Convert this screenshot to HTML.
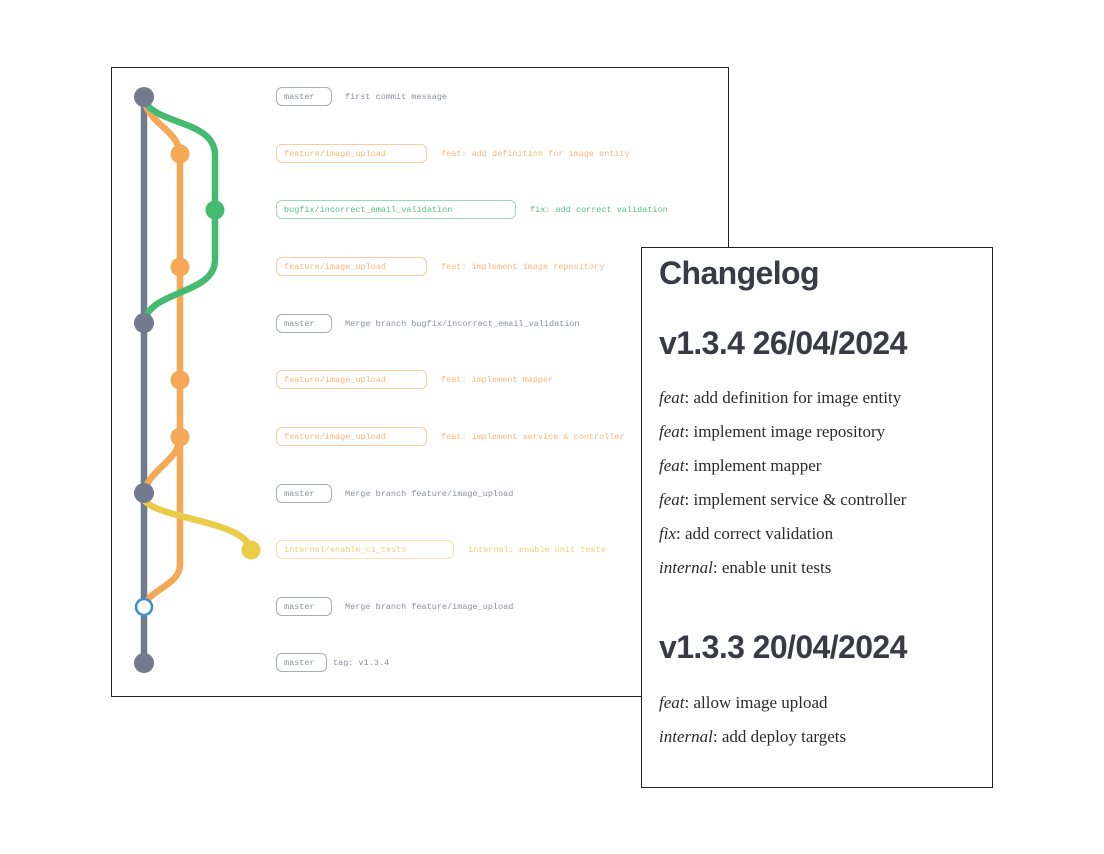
<!DOCTYPE html>
<html><head><meta charset="utf-8"><style>
body{margin:0;width:1104px;height:854px;background:#fff;position:relative;overflow:hidden}
.box{position:absolute;border:1px solid #222;background:#fff}
.lbl{position:absolute;height:19px;border:1.5px solid;border-radius:6px;font:8.5px "Liberation Mono",monospace;display:flex;align-items:center;padding:1px 0 0 7px;box-sizing:border-box}
.msg{position:absolute;font:8.5px "Liberation Mono",monospace;line-height:12px}
.g{color:#8a8f9a;border-color:#a9adb6}
.o{color:#f5b77a;border-color:#f8cda2}
.gr{color:#5cbd86;border-color:#9dd8b7}
.y{color:#f0d27a;border-color:#f5e2ac}
h1,h2{position:absolute;margin:0;font-family:"Liberation Sans",sans-serif;font-weight:bold;color:#383b44;letter-spacing:-0.6px}
.it{position:absolute;left:659px;font:17px "Liberation Serif",serif;color:#2a2a2a}
</style></head><body>
<div class="box" style="left:111px;top:67px;width:616px;height:628px">
<svg width="618" height="630" style="position:absolute;left:-1px;top:-1px" fill="none" stroke-linecap="round">
<g transform="translate(-111,-67)">
<path d="M144 97 V663" stroke="#727a8e" stroke-width="6.5"/>
<path d="M144 100 C150 125 178 130 180 154 V565 C180 585 148 590 144 607" stroke="#f5a855" stroke-width="6.5"/>
<path d="M180 437 C180 460 148 470 144 493" stroke="#f5a855" stroke-width="6.5"/>
<path d="M144 100 C155 125 215 120 215 155 V260 C215 295 148 290 144 323" stroke="#45bb72" stroke-width="6.5"/>
<path d="M144 500 C160 520 245 520 251 550" stroke="#eccb48" stroke-width="6.5"/>
<g fill="#727a8e"><circle cx="144" cy="97" r="10"/><circle cx="144" cy="323" r="10"/><circle cx="144" cy="493" r="10"/><circle cx="144" cy="663" r="10"/></g>
<g fill="#f5a855"><circle cx="180" cy="154" r="9.5"/><circle cx="180" cy="267" r="9.5"/><circle cx="180" cy="380" r="9.5"/><circle cx="180" cy="437" r="9.5"/></g>
<circle cx="215" cy="210" r="9.5" fill="#45bb72"/>
<circle cx="251" cy="550" r="9.5" fill="#eccb48"/>
<circle cx="144" cy="607" r="8" fill="#fff" stroke="#3b8fd4" stroke-width="2.5"/>
</g></svg>
</div>
<div class="lbl g" style="left:276px;top:87px;width:56px">master</div><div class="msg g" style="left:345px;top:91px">first commit message</div>
<div class="lbl o" style="left:276px;top:144px;width:151px">feature/image_upload</div><div class="msg o" style="left:441px;top:148px">feat: add definition for image entity</div>
<div class="lbl gr" style="left:276px;top:200px;width:240px">bugfix/incorrect_email_validation</div><div class="msg gr" style="left:530px;top:204px">fix: add correct validation</div>
<div class="lbl o" style="left:276px;top:257px;width:151px">feature/image_upload</div><div class="msg o" style="left:441px;top:261px">feat: implement image repository</div>
<div class="lbl g" style="left:276px;top:314px;width:56px">master</div><div class="msg g" style="left:345px;top:318px">Merge branch bugfix/incorrect_email_validation</div>
<div class="lbl o" style="left:276px;top:370px;width:151px">feature/image_upload</div><div class="msg o" style="left:441px;top:374px">feat: implement mapper</div>
<div class="lbl o" style="left:276px;top:427px;width:151px">feature/image_upload</div><div class="msg o" style="left:441px;top:431px">feat: implement service &amp; controller</div>
<div class="lbl g" style="left:276px;top:484px;width:56px">master</div><div class="msg g" style="left:345px;top:488px">Merge branch feature/image_upload</div>
<div class="lbl y" style="left:276px;top:540px;width:178px">internal/enable_ci_tests</div><div class="msg y" style="left:468px;top:544px">internal: enable unit tests</div>
<div class="lbl g" style="left:276px;top:597px;width:56px">master</div><div class="msg g" style="left:345px;top:601px">Merge branch feature/image_upload</div>
<div class="lbl g" style="left:276px;top:653px;width:51px">master</div><div class="msg g" style="left:333px;top:657px">tag: v1.3.4</div>

<div class="box" style="left:641px;top:247px;width:350px;height:539px"></div>
<h1 style="left:659px;top:255px;font-size:32px">Changelog</h1>
<h2 style="left:659px;top:325px;font-size:32px">v1.3.4 26/04/2024</h2>
<div class="it" style="top:388px"><i>feat</i>: add definition for image entity</div>
<div class="it" style="top:422px"><i>feat</i>: implement image repository</div>
<div class="it" style="top:456px"><i>feat</i>: implement mapper</div>
<div class="it" style="top:490px"><i>feat</i>: implement service &amp; controller</div>
<div class="it" style="top:524px"><i>fix</i>: add correct validation</div>
<div class="it" style="top:558px"><i>internal</i>: enable unit tests</div>
<h2 style="left:659px;top:629px;font-size:32px">v1.3.3 20/04/2024</h2>
<div class="it" style="top:693px"><i>feat</i>: allow image upload</div>
<div class="it" style="top:727px"><i>internal</i>: add deploy targets</div>
</body></html>
